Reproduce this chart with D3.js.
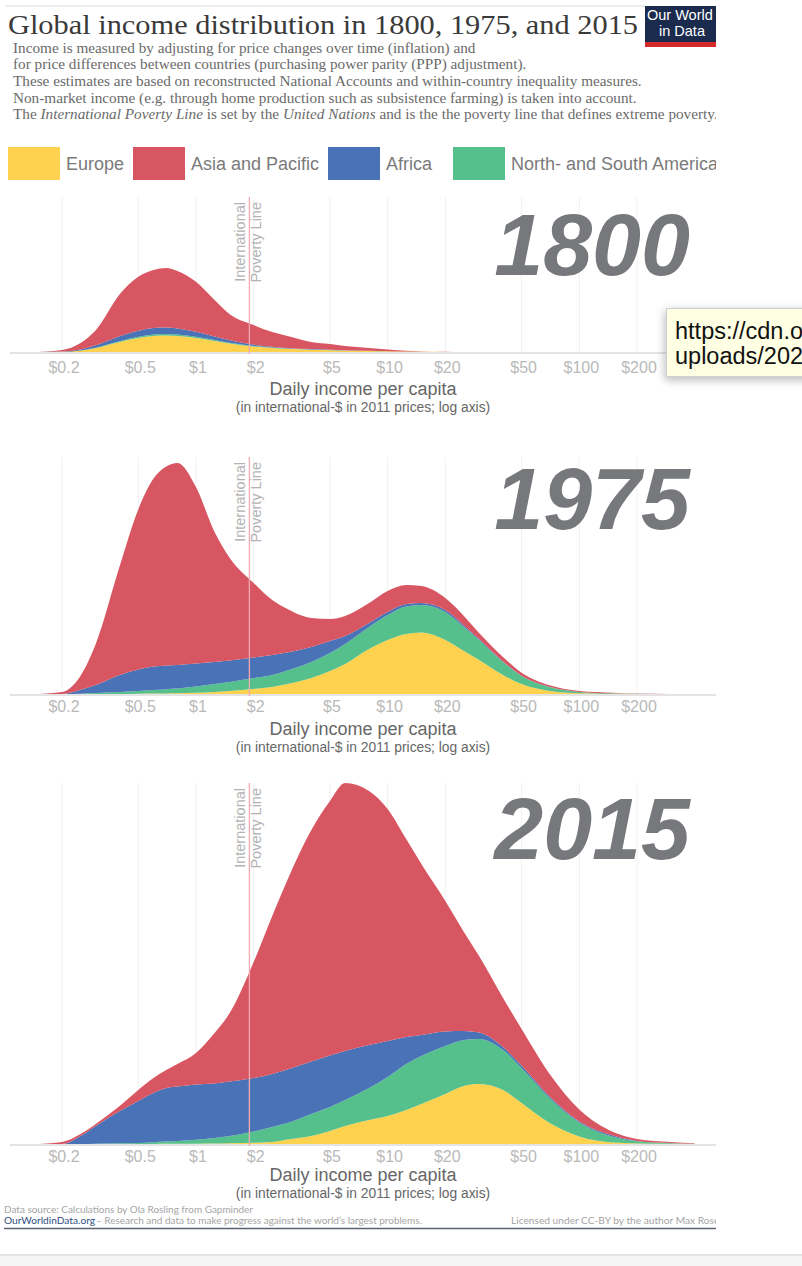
<!DOCTYPE html>
<html>
<head>
<meta charset="utf-8">
<script src="https://cdn.jsdelivr.net/npm/d3@7"></script>
<style>
body { margin: 0; background: #fff; }
#wrap { position: relative; width: 802px; height: 1266px; overflow: hidden; }
#tip {
    position: absolute; left: 666px; top: 308px; width: 170px; height: 69px;
    background: #ffffe3; border: 1px solid #cfcfcf; box-sizing: border-box;
    box-shadow: -1px 3px 9px rgba(0,0,0,0.28);
    font-family: "Liberation Sans", Arial, sans-serif; font-size: 23.5px; line-height: 25px;
    color: #111; padding: 10px 0 0 8px; white-space: nowrap;
}
</style>
</head>
<body>
<div id="wrap">
<svg id="chart" width="802" height="1266"></svg>
<div id="tip">https://cdn.ourworldindata.org/<br>uploads/2020/</div>
</div>
<script>
// Income grid (daily $, log axis)
const incomes = [0.15, 0.2, 0.25, 0.3, 0.4, 0.5, 0.6, 0.7, 0.8, 1, 1.25, 1.5, 2, 2.5, 3, 4, 5, 6, 8, 10, 12.5, 15, 20, 25, 30, 40, 50, 70, 100, 150, 200, 300, 400];

// 1800
const europe1800   = [0, 0.3, 1.5, 4, 10, 14, 16, 16.5, 16, 14, 11, 8.5, 5.5, 4, 3.2, 2.3, 1.8, 1.4, 1, 0.7, 0.4, 0.25, 0.1, 0, 0, 0, 0, 0, 0, 0, 0, 0, 0];
const americas1800 = [0, 0, 0.1, 0.3, 0.8, 1.2, 1.5, 1.5, 1.4, 1.2, 1, 0.8, 0.6, 0.5, 0.4, 0.3, 0.25, 0.2, 0.15, 0.1, 0.05, 0, 0, 0, 0, 0, 0, 0, 0, 0, 0, 0, 0];
const africa1800   = [0, 0.2, 1, 2.5, 5, 6, 6.5, 6.5, 6, 5, 3.5, 2.5, 1.3, 0.8, 0.5, 0.3, 0.2, 0.1, 0.05, 0, 0, 0, 0, 0, 0, 0, 0, 0, 0, 0, 0, 0, 0];
const asia1800     = [0, 1.5, 6.5, 15, 42, 54, 58, 59.5, 57.6, 50, 36.5, 26, 19.6, 14.7, 11.9, 7.1, 5.7, 4.3, 2.8, 1.7, 0.8, 0.35, 0.1, 0, 0, 0, 0, 0, 0, 0, 0, 0, 0];

// 1975
const europe1975   = [0, 0, 0, 0, 0, 0.2, 0.4, 0.6, 0.8, 1.3, 2, 3, 5, 7, 10, 16, 23, 30, 45, 54, 60, 61.5, 54, 43, 34, 19, 10, 3, 0.8, 0.3, 0.1, 0, 0];
const americas1975 = [0, 0, 0.3, 1, 2, 2.8, 3.6, 4.2, 4.7, 6.2, 8, 9, 11, 12, 13.5, 16, 18, 20, 22, 25, 27.5, 27.5, 28, 24, 20, 13, 8, 4, 1.2, 0.4, 0.1, 0, 0];
const africa1975   = [0, 0, 4, 8, 17, 21.5, 23.5, 23.7, 23.5, 23, 22, 21.5, 20.5, 20, 18, 15, 12, 8, 4, 3, 2.5, 2, 2, 1.5, 1, 0.6, 0.3, 0.2, 0.1, 0, 0, 0, 0];
const asia1975     = [0, 2, 14, 41, 109, 160, 188, 199, 202, 176.5, 130, 102.5, 74.5, 55, 43.5, 29, 22, 20, 20, 21, 19, 17, 12, 9.5, 6, 4.4, 3, 1.5, 0.9, 0.6, 0.3, 0.1, 0];

// 2015
const europe2015   = [0, 0, 0, 0, 0, 0, 0.1, 0.15, 0.2, 0.3, 0.5, 0.8, 1.3, 2, 4.5, 8, 13, 18, 24, 28, 34, 40, 50, 58, 60, 54, 41, 21, 7.5, 1.4, 0.5, 0.2, 0];
const americas2015 = [0, 0, 0, 0.3, 0.7, 1, 1.7, 2.25, 2.8, 4, 5.5, 7.2, 11.2, 15, 16.5, 22, 24, 26, 32, 39, 46, 48, 48, 46, 45, 40, 35, 25, 14, 5.8, 2.2, 0.6, 0.2];
const africa2015   = [0, 0, 8, 17.7, 32.3, 42, 49.2, 53.6, 54.5, 55.2, 54.5, 54.5, 53.5, 53, 53.5, 52.5, 51.5, 49, 43, 36, 27, 21, 14.5, 9, 6.5, 3, 2.5, 1.5, 1, 1.2, 0.4, 0.1, 0];
const asia2015     = [0, 2, 2, 2, 5, 11, 15, 18, 22.5, 31.5, 50.5, 68.5, 116, 158, 189.5, 231.5, 254.5, 268, 254, 232, 198, 171, 130.5, 99, 76.5, 49, 36.5, 22.5, 12, 3.6, 2, 1.1, 0.5];

const years = [1800, 1975, 2015];
const seriesByYear = {
    1800: { Europe: europe1800, Americas: americas1800, Africa: africa1800, Asia: asia1800 },
    1975: { Europe: europe1975, Americas: americas1975, Africa: africa1975, Asia: asia1975 },
    2015: { Europe: europe2015, Americas: americas2015, Africa: africa2015, Asia: asia2015 }
};

const stackKeys = ["Europe", "Americas", "Africa", "Asia"]; // bottom to top
const colors = { Europe: "#fed24f", Asia: "#d85661", Africa: "#4a72b7", Americas: "#55c08c" };
const legendKeys = ["Europe", "Asia", "Africa", "Americas"];
const legendLabels = ["Europe", "Asia and Pacific", "Africa", "North- and South America"];

const tickValues = [0.2, 0.5, 1, 2, 5, 10, 20, 50, 100, 200];
const tickLabels = ["$0.2", "$0.5", "$1", "$2", "$5", "$10", "$20", "$50", "$100", "$200"];
const povertyLine = 1.9;

const subtitleLines = [
    [["Income is measured by adjusting for price changes over time (inflation) and", false]],
    [["for price differences between countries (purchasing power parity (PPP) adjustment).", false]],
    [["These estimates are based on reconstructed National Accounts and within-country inequality measures.", false]],
    [["Non-market income (e.g. through home production such as subsistence farming) is taken into account.", false]],
    [["The ", false], ["International Poverty Line", true], [" is set by the ", false], ["United Nations", true], [" and is the the poverty line that defines extreme poverty.", false]]
];

// Layout of the three panels (pixels)
const panels = [
    { year: 1800, top: 197, base: 352, tickY: 368, titleY: 389, subY: 407, yearY: 275 },
    { year: 1975, top: 457, base: 694, tickY: 707, titleY: 729, subY: 747, yearY: 529 },
    { year: 2015, top: 783, base: 1144, tickY: 1157, titleY: 1175, subY: 1193, yearY: 859 }
];

const SANS = "'Liberation Sans', Arial, Helvetica, sans-serif";
const SERIF = "'Liberation Serif', 'Times New Roman', serif";

const svg = d3.select("#chart");
svg.append("defs").append("clipPath").attr("id", "pageClip")
    .append("rect").attr("x", 0).attr("y", 0).attr("width", 716).attr("height", 1240);
const page = svg.append("g").attr("clip-path", "url(#pageClip)");

const x = d3.scaleLog().domain([0.2, 200]).range([62, 637]);

// Header
page.append("line").attr("x1", 5).attr("x2", 645).attr("y1", 6).attr("y2", 6)
    .attr("stroke", "#dcdcdc").attr("stroke-width", 1);

page.append("text")
    .attr("x", 8).attr("y", 34)
    .attr("font-family", SERIF).attr("font-size", 28).attr("fill", "#3a3a3a")
    .attr("textLength", 630).attr("lengthAdjust", "spacingAndGlyphs")
    .text("Global income distribution in 1800, 1975, and 2015");

const subG = page.append("g").attr("font-family", SERIF).attr("fill", "#6a6a6a");
const subTexts = subtitleLines.map((line, i) => {
    const t = subG.append("text").attr("x", 13).attr("y", 52.5 + i * 16.7).attr("font-size", 14);
    line.forEach(([s, it]) => t.append("tspan").attr("font-style", it ? "italic" : "normal").text(s));
    return t;
});
const w3 = subTexts[2].node().getComputedTextLength();
subTexts.forEach(t => t.attr("font-size", 14 * 629 / w3));

// OWID logo
const logo = page.append("g");
logo.append("rect").attr("x", 645).attr("y", 6).attr("width", 80).attr("height", 37).attr("fill", "#1a2b4e");
logo.append("rect").attr("x", 645).attr("y", 42).attr("width", 80).attr("height", 5).attr("fill", "#d42b2a");
logo.append("text").attr("x", 647).attr("y", 20).attr("font-family", SANS).attr("font-size", 14.5)
    .attr("fill", "#fff").text("Our World");
logo.append("text").attr("x", 659).attr("y", 36).attr("font-family", SANS).attr("font-size", 14.5)
    .attr("fill", "#fff").text("in Data");

// Legend
const swatchX = [8, 133, 328, 453];
const legend = page.append("g");
legendKeys.forEach((k, i) => {
    legend.append("rect").attr("x", swatchX[i]).attr("y", 147).attr("width", 52).attr("height", 33)
        .attr("fill", colors[k]);
    legend.append("text").attr("x", swatchX[i] + 58).attr("y", 170)
        .attr("font-family", SANS).attr("font-size", 18).attr("fill", "#7a7a7a")
        .text(legendLabels[i]);
});

// Panels
const stack = d3.stack().keys(stackKeys);

panels.forEach(p => {
    const g = page.append("g");
    const y = d3.scaleLinear().domain([0, 100]).range([p.base, p.base - 100]);
    const s = seriesByYear[p.year];
    const rows = incomes.map((v, i) => ({
        income: v, Europe: s.Europe[i], Americas: s.Americas[i], Africa: s.Africa[i], Asia: s.Asia[i]
    }));

    // grid
    g.selectAll("line.grid").data(tickValues).enter().append("line")
        .attr("x1", d => x(d)).attr("x2", d => x(d))
        .attr("y1", p.top).attr("y2", p.base)
        .attr("stroke", "#f1f1f1").attr("stroke-width", 1);

    // year
    g.append("text").attr("x", 690).attr("y", p.yearY)
        .attr("text-anchor", "end").attr("font-family", SANS)
        .attr("font-weight", "bold").attr("font-style", "italic")
        .attr("font-size", 88).attr("fill", "#77787b")
        .text(p.year);

    // stacked areas
    const area = d3.area()
        .x(d => x(d.data.income))
        .y0(d => y(d[0]))
        .y1(d => y(d[1]))
        .curve(d3.curveMonotoneX);
    g.selectAll("path.layer").data(stack(rows)).enter().append("path")
        .attr("d", area)
        .attr("fill", d => colors[d.key]);

    // baseline
    g.append("line").attr("x1", 10).attr("x2", 716).attr("y1", p.base + 1).attr("y2", p.base + 1)
        .attr("stroke", "#e4e4e4").attr("stroke-width", 2);

    // poverty line
    const px = x(povertyLine);
    g.append("line").attr("x1", px).attr("x2", px).attr("y1", p.top).attr("y2", p.base + 2)
        .attr("stroke", "#f3a9b0").attr("stroke-width", 1.3);
    g.append("text").attr("transform", `translate(${px - 4},${p.top + 5}) rotate(-90)`)
        .attr("text-anchor", "end").attr("font-family", SANS).attr("font-size", 14.5)
        .attr("fill", "#b3b3b3").text("International");
    g.append("text").attr("transform", `translate(${px + 12},${p.top + 5}) rotate(-90)`)
        .attr("text-anchor", "end").attr("font-family", SANS).attr("font-size", 14.5)
        .attr("fill", "#b3b3b3").text("Poverty Line");

    // ticks
    g.selectAll("text.tick").data(tickValues).enter().append("text")
        .attr("x", d => x(d) + 2).attr("y", p.tickY + 5)
        .attr("text-anchor", "middle").attr("font-family", SANS).attr("font-size", 16)
        .attr("fill", "#b9b9b9")
        .text((d, i) => tickLabels[i]);

    g.append("text").attr("x", 363).attr("y", p.titleY + 6)
        .attr("text-anchor", "middle").attr("font-family", SANS).attr("font-size", 18)
        .attr("fill", "#666").text("Daily income per capita");
    g.append("text").attr("x", 363).attr("y", p.subY + 5)
        .attr("text-anchor", "middle").attr("font-family", SANS).attr("font-size", 13.8)
        .attr("fill", "#666").text("(in international-$ in 2011 prices; log axis)");
});

// Footer
const foot = page.append("g").attr("font-family", "Lato, 'Liberation Sans', sans-serif").attr("font-size", 9.5);
foot.append("text").attr("x", 4).attr("y", 1212.5).attr("fill", "#a5a5a5")
    .attr("textLength", 249).attr("lengthAdjust", "spacingAndGlyphs")
    .text("Data source: Calculations by Ola Rosling from Gapminder");
foot.append("text").attr("x", 4).attr("y", 1224).attr("fill", "#2f4d80")
    .attr("textLength", 91).attr("lengthAdjust", "spacingAndGlyphs")
    .text("OurWorldinData.org");
foot.append("text").attr("x", 96).attr("y", 1224).attr("fill", "#a5a5a5")
    .attr("textLength", 326).attr("lengthAdjust", "spacingAndGlyphs")
    .text(" \u2013 Research and data to make progress against the world\u2019s largest problems.");
foot.append("text").attr("x", 511).attr("y", 1224).attr("fill", "#a5a5a5")
    .attr("textLength", 212).attr("lengthAdjust", "spacingAndGlyphs")
    .text("Licensed under CC-BY by the author Max Roser");
page.append("line").attr("x1", 4).attr("x2", 716).attr("y1", 1228.5).attr("y2", 1228.5)
    .attr("stroke", "#5a6172").attr("stroke-width", 1.5);

// browser edge at bottom
svg.append("rect").attr("x", 0).attr("y", 1254).attr("width", 802).attr("height", 2).attr("fill", "#e4e4e4");
svg.append("rect").attr("x", 0).attr("y", 1256).attr("width", 802).attr("height", 10).attr("fill", "#f5f5f5");
</script>
</body>
</html>
